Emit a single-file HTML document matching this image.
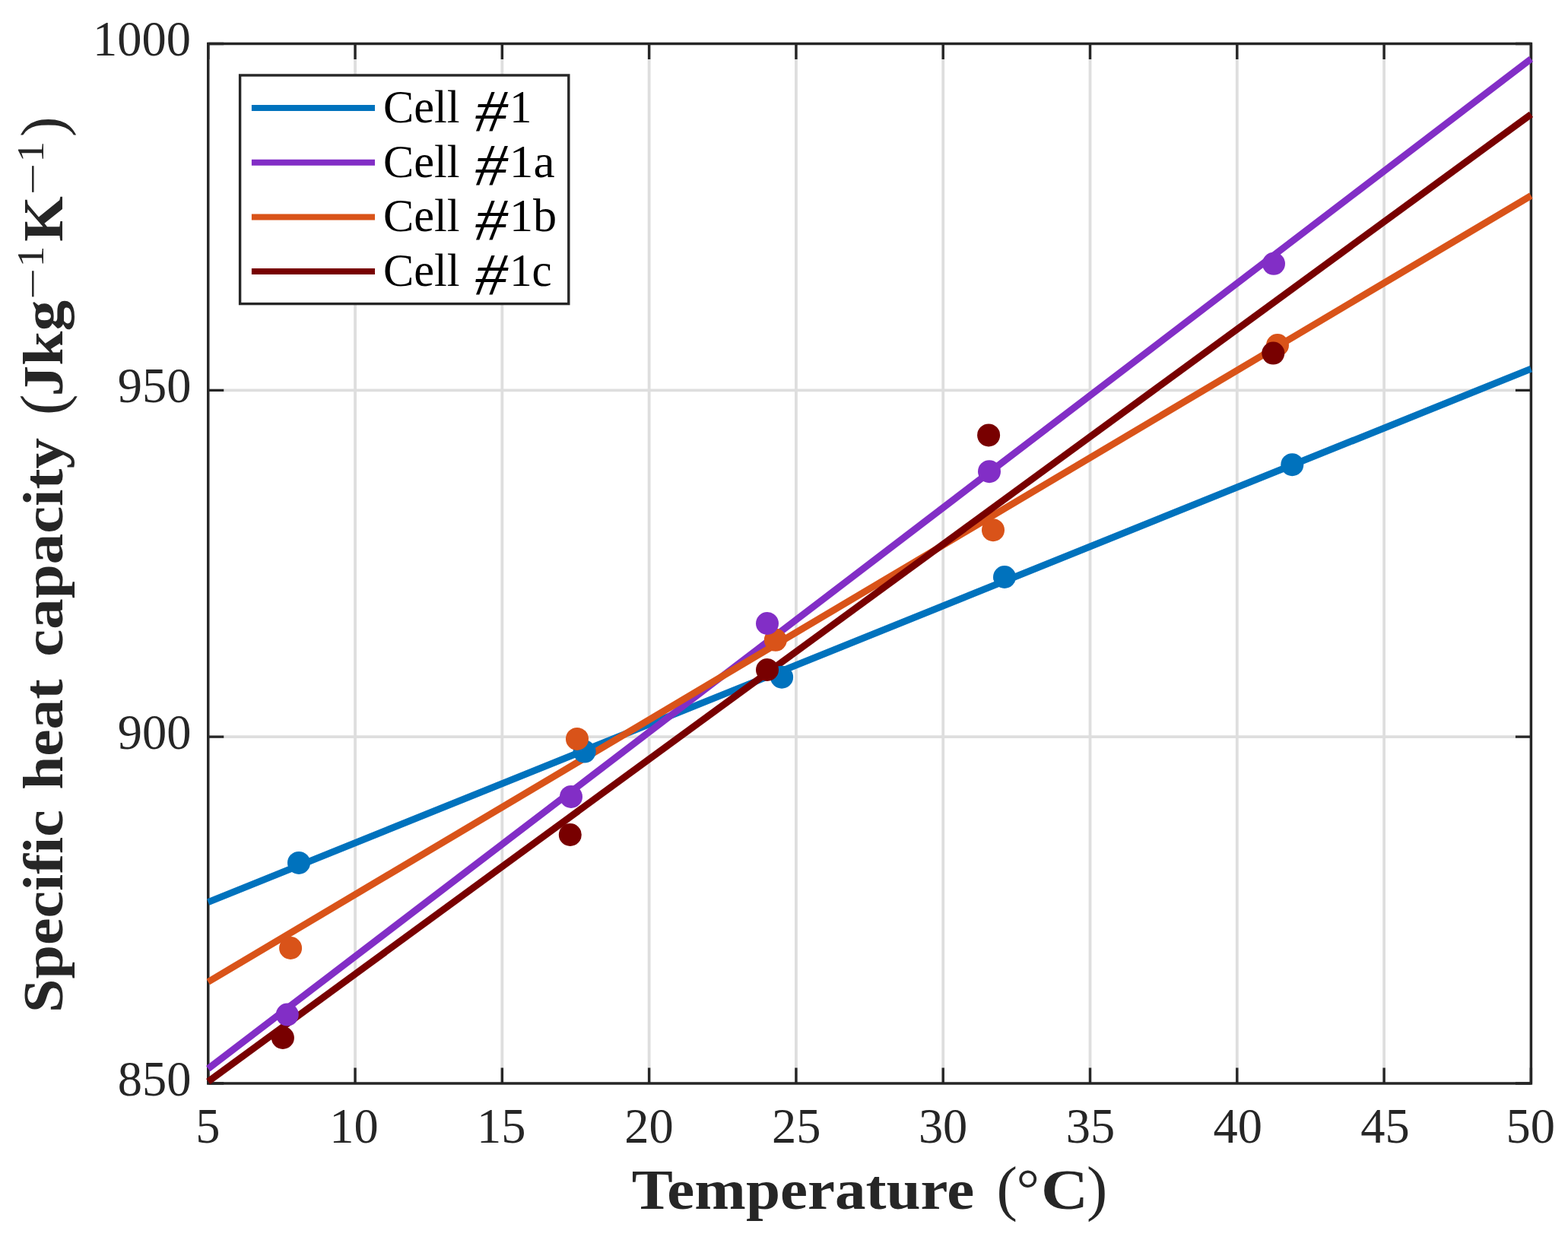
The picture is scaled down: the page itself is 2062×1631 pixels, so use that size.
<!DOCTYPE html><html><head><meta charset="utf-8"><title>Specific heat capacity vs temperature</title>
<style>html,body{margin:0;padding:0;background:#fff;overflow:hidden;}svg{display:block;}text{font-family:"Liberation Serif",serif;}</style></head><body>
<svg width="2062" height="1631" viewBox="0 0 2062 1631">
<rect x="0" y="0" width="2062" height="1631" fill="#fff"/>
<path d="M467.04 57.50V1425.00M660.34 57.50V1425.00M853.63 57.50V1425.00M1046.93 57.50V1425.00M1240.22 57.50V1425.00M1433.52 57.50V1425.00M1626.81 57.50V1425.00M1820.11 57.50V1425.00M273.75 969.17H2013.40M273.75 513.33H2013.40" stroke="#dedede" stroke-width="3.8" fill="none"/>
<path d="M273.75 1425.00V1404.50M273.75 57.50V78.00M467.04 1425.00V1404.50M467.04 57.50V78.00M660.34 1425.00V1404.50M660.34 57.50V78.00M853.63 1425.00V1404.50M853.63 57.50V78.00M1046.93 1425.00V1404.50M1046.93 57.50V78.00M1240.22 1425.00V1404.50M1240.22 57.50V78.00M1433.52 1425.00V1404.50M1433.52 57.50V78.00M1626.81 1425.00V1404.50M1626.81 57.50V78.00M1820.11 1425.00V1404.50M1820.11 57.50V78.00M2013.40 1425.00V1404.50M2013.40 57.50V78.00M273.75 1425.00H294.25M2013.40 1425.00H1992.90M273.75 969.17H294.25M2013.40 969.17H1992.90M273.75 513.33H294.25M2013.40 513.33H1992.90M273.75 57.50H294.25M2013.40 57.50H1992.90" stroke="#262626" stroke-width="3.4" fill="none"/>
<rect x="273.75" y="57.50" width="1739.65" height="1367.50" stroke="#262626" stroke-width="3.5" fill="none"/>
<line x1="273.75" y1="1186.60" x2="2013.40" y2="485.10" stroke="#0072bd" stroke-width="9.0" stroke-linecap="butt"/>
<line x1="273.75" y1="1405.60" x2="2013.40" y2="77.50" stroke="#822ec6" stroke-width="9.0" stroke-linecap="butt"/>
<line x1="273.75" y1="1291.50" x2="2013.40" y2="257.40" stroke="#d95319" stroke-width="9.0" stroke-linecap="butt"/>
<line x1="273.75" y1="1422.60" x2="2013.40" y2="150.40" stroke="#780000" stroke-width="9.0" stroke-linecap="butt"/>
<circle cx="393" cy="1134.9" r="15.0" fill="#0072bd"/>
<circle cx="768.6" cy="988.6" r="15.0" fill="#0072bd"/>
<circle cx="1028.1" cy="890.7" r="15.0" fill="#0072bd"/>
<circle cx="1321" cy="759" r="15.0" fill="#0072bd"/>
<circle cx="1699.3" cy="611.2" r="15.0" fill="#0072bd"/>
<circle cx="382.1" cy="1247" r="15.0" fill="#d95319"/>
<circle cx="759" cy="971.9" r="15.0" fill="#d95319"/>
<circle cx="1019.8" cy="841.8" r="15.0" fill="#d95319"/>
<circle cx="1306" cy="697.2" r="15.0" fill="#d95319"/>
<circle cx="1680" cy="454" r="15.0" fill="#d95319"/>
<circle cx="371.9" cy="1365" r="15.0" fill="#780000"/>
<circle cx="749.8" cy="1098" r="15.0" fill="#780000"/>
<circle cx="1009" cy="881" r="15.0" fill="#780000"/>
<circle cx="1300.1" cy="572.4" r="15.0" fill="#780000"/>
<circle cx="1674.3" cy="464.6" r="15.0" fill="#780000"/>
<circle cx="377.8" cy="1334.6" r="15.0" fill="#822ec6"/>
<circle cx="751" cy="1047.9" r="15.0" fill="#822ec6"/>
<circle cx="1009" cy="820" r="15.0" fill="#822ec6"/>
<circle cx="1301" cy="620.2" r="15.0" fill="#822ec6"/>
<circle cx="1675" cy="346.8" r="15.0" fill="#822ec6"/>
<text transform="translate(257.29 1502.7) scale(0.9918 1)" font-size="65.0" fill="#262626">5</text>
<text transform="translate(433.23 1502.7) scale(0.9918 1)" font-size="65.0" fill="#262626">10</text>
<text transform="translate(627.02 1502.7) scale(0.9918 1)" font-size="65.0" fill="#262626">15</text>
<text transform="translate(821.30 1502.7) scale(0.9918 1)" font-size="65.0" fill="#262626">20</text>
<text transform="translate(1015.09 1502.7) scale(0.9918 1)" font-size="65.0" fill="#262626">25</text>
<text transform="translate(1207.89 1502.7) scale(0.9918 1)" font-size="65.0" fill="#262626">30</text>
<text transform="translate(1401.68 1502.7) scale(0.9918 1)" font-size="65.0" fill="#262626">35</text>
<text transform="translate(1595.47 1502.7) scale(0.9918 1)" font-size="65.0" fill="#262626">40</text>
<text transform="translate(1789.26 1502.7) scale(0.9918 1)" font-size="65.0" fill="#262626">45</text>
<text transform="translate(1980.57 1502.7) scale(0.9918 1)" font-size="65.0" fill="#262626">50</text>
<text transform="translate(154.68 1440.50) scale(0.9918 1)" font-size="65.0" fill="#262626">850</text>
<text transform="translate(154.68 984.67) scale(0.9918 1)" font-size="65.0" fill="#262626">900</text>
<text transform="translate(154.68 528.83) scale(0.9918 1)" font-size="65.0" fill="#262626">950</text>
<text transform="translate(121.95 73.00) scale(0.9918 1)" font-size="65.0" fill="#262626">1000</text>
<rect x="315.6" y="99.0" width="432.2" height="300.6" fill="#fff" stroke="#262626" stroke-width="3.4"/>
<line x1="330.9" y1="142.00" x2="493" y2="142.00" stroke="#0072bd" stroke-width="8"/>
<line x1="330.9" y1="213.70" x2="493" y2="213.70" stroke="#822ec6" stroke-width="8"/>
<line x1="330.9" y1="285.40" x2="493" y2="285.40" stroke="#d95319" stroke-width="8"/>
<line x1="330.9" y1="357.10" x2="493" y2="357.10" stroke="#780000" stroke-width="8"/>
<text transform="translate(830.71 1590.00) scale(1.0886 1.0000)" font-size="74.5" font-weight="bold" fill="#262626">Temperature</text>
<text transform="translate(1310.58 1590.33) scale(1.1053 1.0712)" font-size="74.5" fill="#262626">(</text>
<text transform="translate(1336.76 1589.11) scale(1.0091 0.9818)" font-size="74.5" fill="#262626">°</text>
<text transform="translate(1368.89 1590.00) scale(1.1523 1.0000)" font-size="74.5" font-weight="bold" fill="#262626">C</text>
<text transform="translate(1428.90 1590.33) scale(1.1000 1.0712)" font-size="74.5" fill="#262626">)</text>
<text transform="translate(82.30 1332.10) rotate(-90) scale(1.0752 1.0000)" font-size="74.5" font-weight="bold" fill="#262626">Specific</text>
<text transform="translate(82.30 1038.83) rotate(-90) scale(1.0649 1.0000)" font-size="74.5" font-weight="bold" fill="#262626">heat</text>
<text transform="translate(82.30 863.66) rotate(-90) scale(1.0862 1.0000)" font-size="74.5" font-weight="bold" fill="#262626">capacity</text>
<text transform="translate(83.57 546.12) rotate(-90) scale(1.1053 1.0955)" font-size="74.5" fill="#262626">(</text>
<text transform="translate(82.30 521.27) rotate(-90) scale(1.0893 1.0000)" font-size="74.5" font-weight="bold" fill="#262626">Jkg</text>
<text transform="translate(60.40 394.30) rotate(-90) scale(1.4652 1.0000)" font-size="50.0" fill="#262626">−</text>
<text transform="translate(56.70 351.44) rotate(-90) scale(1.1111 1.0000)" font-size="50.0" fill="#262626">1</text>
<text transform="translate(82.30 317.83) rotate(-90) scale(1.0304 1.0000)" font-size="74.5" font-weight="bold" fill="#262626">K</text>
<text transform="translate(60.40 256.86) rotate(-90) scale(1.4870 1.0000)" font-size="50.0" fill="#262626">−</text>
<text transform="translate(56.70 213.42) rotate(-90) scale(1.1056 1.0000)" font-size="50.0" fill="#262626">1</text>
<text transform="translate(83.10 180.03) rotate(-90) scale(1.0632 1.0803)" font-size="74.5" fill="#262626">)</text>
<text transform="translate(503.93 161.00) scale(0.9897 1.0000)" font-size="61.0" fill="#000">Cell</text>
<text transform="translate(624.50 171.70) scale(1.4033 1.2875)" font-size="61.0" font-style="italic" fill="#000">#</text>
<text transform="translate(670.23 161.00) scale(0.9545 1.0000)" font-size="61.0" fill="#000">1</text>
<text transform="translate(503.93 232.67) scale(0.9897 1.0000)" font-size="61.0" fill="#000">Cell</text>
<text transform="translate(624.50 243.37) scale(1.4033 1.2875)" font-size="61.0" font-style="italic" fill="#000">#</text>
<text transform="translate(669.81 232.67) scale(1.0385 1.0000)" font-size="61.0" fill="#000">1a</text>
<text transform="translate(503.93 304.34) scale(0.9897 1.0000)" font-size="61.0" fill="#000">Cell</text>
<text transform="translate(624.50 315.04) scale(1.4033 1.2875)" font-size="61.0" font-style="italic" fill="#000">#</text>
<text transform="translate(669.90 304.34) scale(1.0204 1.0000)" font-size="61.0" fill="#000">1b</text>
<text transform="translate(503.93 376.01) scale(0.9897 1.0000)" font-size="61.0" fill="#000">Cell</text>
<text transform="translate(624.50 386.71) scale(1.4033 1.2875)" font-size="61.0" font-style="italic" fill="#000">#</text>
<text transform="translate(670.18 376.01) scale(0.9647 1.0000)" font-size="61.0" fill="#000">1c</text>
</svg></body></html>
